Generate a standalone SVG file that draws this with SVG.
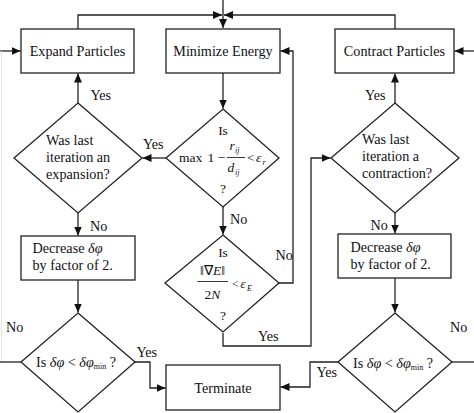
<svg xmlns="http://www.w3.org/2000/svg" width="474" height="413" viewBox="0 0 474 413">
<style>
text{font-size:14.2px;fill:#111}
.s{font-size:13.5px}
.i{font-style:italic}
.sub{font-size:8px}
.sh{fill:#fff;stroke:#222;stroke-width:1.3}
.ln{fill:none;stroke:#222;stroke-width:1.3}
.fb{stroke:#222;stroke-width:0.9}
</style>
<defs>
<marker id="ah" markerUnits="userSpaceOnUse" markerWidth="10" markerHeight="9" refX="9" refY="4" orient="auto">
<path d="M0,0 L9,4 L0,8 z" fill="#111"/>
</marker>
</defs>
<rect width="474" height="413" fill="#fff"/>
<g font-family="Liberation Serif, Times New Roman, serif">
<g id="connectors">
<path class="ln" d="M223,0 V28" marker-end="url(#ah)"/>
<path class="ln" d="M78,29 V15 H222" marker-end="url(#ah)"/>
<path class="ln" d="M395,29 V15 H224" marker-end="url(#ah)"/>
<path class="ln" d="M0,51 H20.5" marker-end="url(#ah)"/>
<path class="ln" d="M474,51 H454.5" marker-end="url(#ah)"/>
<path d="M1.5,51 V362" fill="none" stroke="#e6e6e6" stroke-width="1"/>
<path class="ln" d="M223,73 V108.5" marker-end="url(#ah)"/>
<path class="ln" d="M78,103 V73.5" marker-end="url(#ah)"/>
<path class="ln" d="M395,103 V73.5" marker-end="url(#ah)"/>
<path class="ln" d="M166,158 H142.5" marker-end="url(#ah)"/>
<path class="ln" d="M223,207 V234.5" marker-end="url(#ah)"/>
<path class="ln" d="M279,283 H293 V51 H280.5" marker-end="url(#ah)"/>
<path class="ln" d="M223,333 V346 H311 V158 H330.5" marker-end="url(#ah)"/>
<path class="ln" d="M78,213 V235.5" marker-end="url(#ah)"/>
<path class="ln" d="M395,213 V233.5" marker-end="url(#ah)"/>
<path class="ln" d="M78,280 V312.5" marker-end="url(#ah)"/>
<path class="ln" d="M395,278 V312.5" marker-end="url(#ah)"/>
<path class="ln" d="M21,362 H0"/>
<path class="ln" d="M452,362 H474"/>
<path class="ln" d="M135,362 H150 V388 H165.5" marker-end="url(#ah)"/>
<path class="ln" d="M338,362 H310 V387 H280.5" marker-end="url(#ah)"/>
<text x="90.5" y="100">Yes</text>
<text x="365" y="100">Yes</text>
<text x="143" y="149">Yes</text>
<text x="230" y="224">No</text>
<text x="275.5" y="260">No</text>
<text x="258" y="341">Yes</text>
<text x="90" y="231">No</text>
<text x="370.5" y="230">No</text>
<text x="6" y="332">No</text>
<text x="450" y="332">No</text>
<text x="136.5" y="357">Yes</text>
<text x="316.5" y="377">Yes</text>
</g>
<g id="expand">
<rect class="sh" x="21" y="29" width="113" height="44"/>
<text x="77.5" y="56" text-anchor="middle">Expand Particles</text>
</g>
<g id="minimize">
<rect class="sh" x="166" y="29" width="114" height="44"/>
<text x="223" y="56" text-anchor="middle">Minimize Energy</text>
</g>
<g id="contract">
<rect class="sh" x="335" y="29" width="119" height="44"/>
<text x="394.5" y="56" text-anchor="middle">Contract Particles</text>
</g>
<g id="check-expansion">
<polygon class="sh" points="78,103 142,158 78,213 14,158"/>
<text x="46" y="145">Was last</text>
<text x="46" y="162">iteration an</text>
<text x="46" y="179">expansion?</text>
</g>
<g id="check-contraction">
<polygon class="sh" points="395,103 459,158 395,213 331,158"/>
<text x="362" y="144">Was last</text>
<text x="362" y="161">iteration a</text>
<text x="362" y="178">contraction?</text>
</g>
<g id="check-distance">
<polygon class="sh" points="223,109 279,158 223,207 166,158"/>
<text class="s" x="223" y="135" text-anchor="middle">Is</text>
<text class="s" x="179" y="162">max</text>
<text class="s" x="207.5" y="162">1 −</text>
<line class="fb" x1="227" y1="157.5" x2="245" y2="157.5"/>
<text class="s i" x="229.5" y="150">r</text>
<text class="sub i" x="235" y="153">ij</text>
<text class="s i" x="227.5" y="172">d</text>
<text class="sub i" x="235" y="175">ij</text>
<text class="s" x="247" y="162">&lt;</text>
<text class="s i" x="256" y="162">ε</text>
<text class="sub i" x="262.5" y="165">r</text>
<text class="s" x="223" y="193" text-anchor="middle">?</text>
</g>
<g id="check-gradient">
<polygon class="sh" points="223,235 279,283 223,332 165,283"/>
<text class="s" x="223" y="257" text-anchor="middle">Is</text>
<text class="s" x="212.5" y="275" text-anchor="middle">‖∇<tspan class="i">E</tspan>‖</text>
<line class="fb" x1="197.5" y1="281.5" x2="228" y2="281.5"/>
<text class="s" x="212.5" y="299" text-anchor="middle">2<tspan class="i">N</tspan></text>
<text x="232" y="288" style="font-size:12px">&lt;</text>
<text class="i" x="240.5" y="288" style="font-size:12.5px">ε</text>
<text class="sub i" x="247" y="291">E</text>
<text class="s" x="223" y="320" text-anchor="middle">?</text>
</g>
<g id="decrease-left">
<rect class="sh" x="21" y="236" width="114" height="44"/>
<text x="32.5" y="253">Decrease <tspan class="i">δφ</tspan></text>
<text x="32.5" y="270">by factor of 2.</text>
</g>
<g id="decrease-right">
<rect class="sh" x="338" y="234" width="113" height="44"/>
<text x="350.5" y="252">Decrease <tspan class="i">δφ</tspan></text>
<text x="350.5" y="269">by factor of 2.</text>
</g>
<g id="check-step-left">
<polygon class="sh" points="78,313 135,362 78,412 21,362"/>
<text x="36" y="367">Is  <tspan class="i">δφ</tspan> &lt; <tspan class="i">δφ</tspan><tspan class="sub" dy="2">min</tspan><tspan dy="-2"> ?</tspan></text>
</g>
<g id="check-step-right">
<polygon class="sh" points="395,313 452,362 395,412 338,362"/>
<text x="353" y="368">Is  <tspan class="i">δφ</tspan> &lt; <tspan class="i">δφ</tspan><tspan class="sub" dy="2">min</tspan><tspan dy="-2"> ?</tspan></text>
</g>
<g id="terminate">
<rect class="sh" x="166" y="365" width="114" height="45"/>
<text x="223" y="393" text-anchor="middle">Terminate</text>
</g>
</g>
</svg>
